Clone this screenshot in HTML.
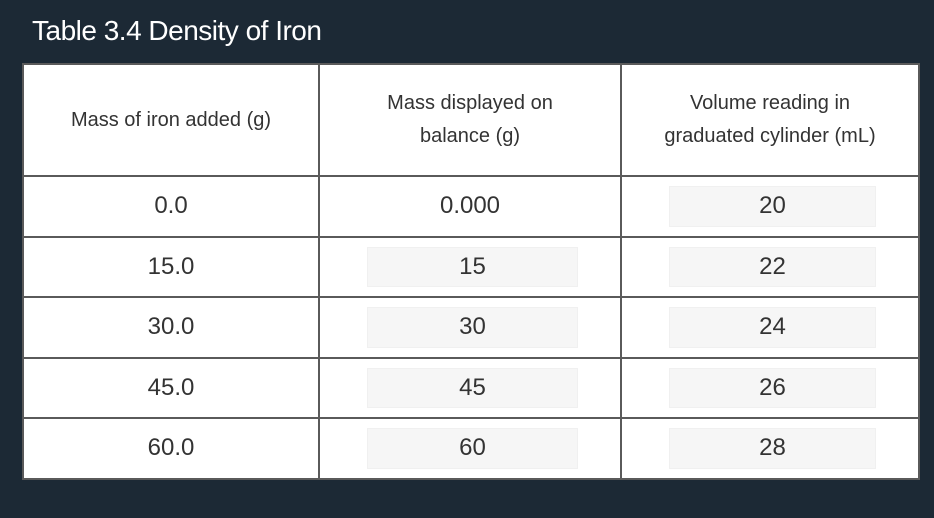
<!DOCTYPE html>
<html><head><meta charset="utf-8">
<style>
body{margin:0;width:934px;height:518px;background:#1c2935;font-family:"Liberation Sans","DejaVu Sans",sans-serif;position:relative;overflow:hidden}
#title{position:absolute;left:32px;top:15px;color:#fff;font-size:28px;letter-spacing:-0.5px}
table{position:absolute;left:22px;top:63px;width:896px;border-collapse:collapse;background:#fff;table-layout:fixed}
td,th{border:2px solid #5a5a5a;text-align:center;color:#333;padding:0;position:relative;box-sizing:border-box}
th{font-weight:normal;font-size:20px;line-height:33px;height:112px}
td{font-size:24px;height:60.5px}
.box{position:absolute;left:47px;right:42px;top:9px;bottom:9px;background:#f6f6f6;border:1px solid #f0f0f0;display:flex;align-items:center;justify-content:center}
</style></head><body>
<div id="title">Table 3.4 Density of Iron</div>
<table>
<colgroup><col style="width:296px"><col style="width:302px"><col style="width:298px"></colgroup>
<tr>
<th>Mass of iron added (g)</th>
<th>Mass displayed on<br>balance (g)</th>
<th>Volume reading in<br>graduated cylinder (mL)</th></tr>
<tr><td>0.0</td><td>0.000</td><td><div class="box">20</div></td></tr>
<tr><td>15.0</td><td><div class="box">15</div></td><td><div class="box">22</div></td></tr>
<tr><td>30.0</td><td><div class="box">30</div></td><td><div class="box">24</div></td></tr>
<tr><td>45.0</td><td><div class="box">45</div></td><td><div class="box">26</div></td></tr>
<tr><td>60.0</td><td><div class="box">60</div></td><td><div class="box">28</div></td></tr>
</table>
</body></html>
